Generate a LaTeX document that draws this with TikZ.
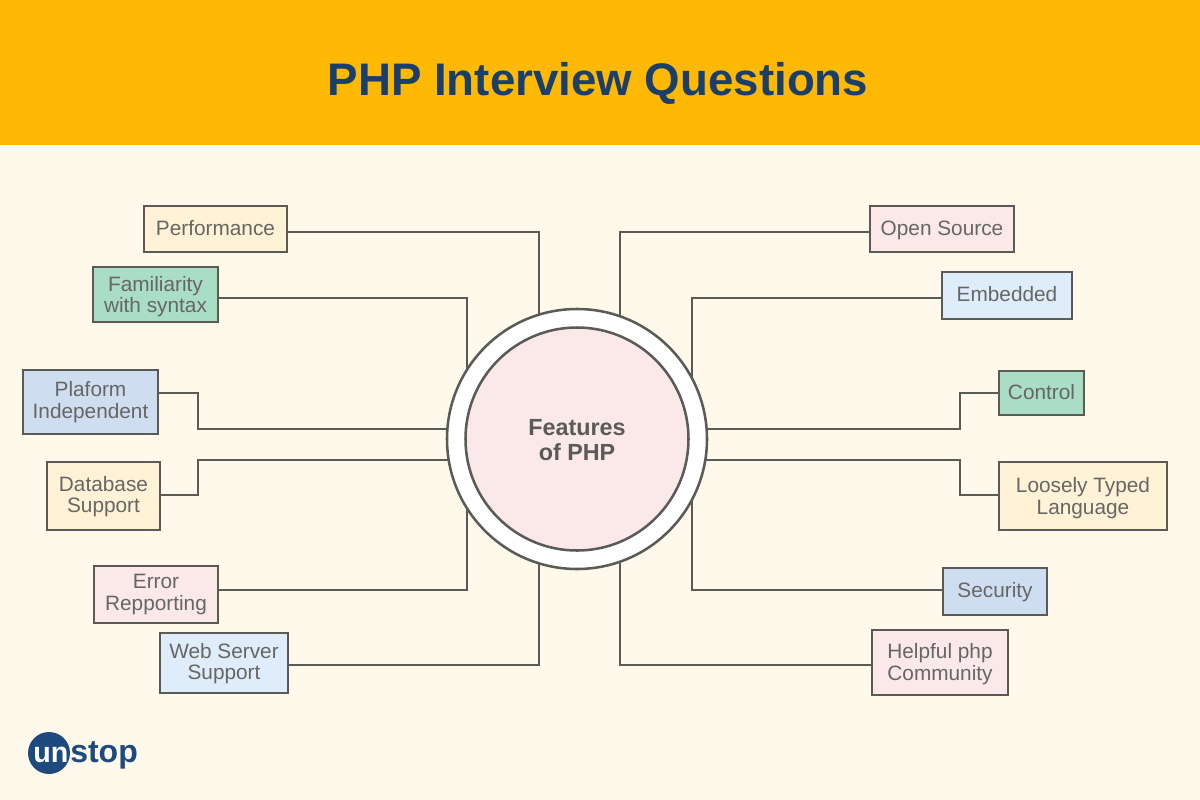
\documentclass[tikz,border=0pt]{standalone}
\usepackage{fontspec}
\setmainfont{Liberation Sans}
\definecolor{bgc}{HTML}{FFF9EC}
\definecolor{hdr}{HTML}{FFB905}
\definecolor{navy}{HTML}{1B3F6B}
\definecolor{logoc}{HTML}{1E4A7E}
\definecolor{ink}{HTML}{5A5A56}
\definecolor{txt}{HTML}{666664}
\definecolor{cream}{HTML}{FFF2D6}
\definecolor{mint}{HTML}{A9DDC6}
\definecolor{sky}{HTML}{CFDDF1}
\definecolor{pale}{HTML}{DFEDFB}
\definecolor{rose}{HTML}{FBE9E9}
\newcommand{\lowr}[1]{\rule{0pt}{#1}}
\tikzset{
  px/.style={x=0.75pt,y=-0.75pt},
  boxbase/.style={draw=ink,line width=2.2pt,rectangle,inner sep=0pt,align=center,text=txt,font=\fontsize{15.6}{16.1}\selectfont},
  oneline/.style={boxbase,text height=12pt,text depth=3pt},
  link/.style={draw=ink,line width=1.9pt,line join=miter},
}
\begin{document}
\begin{tikzpicture}[px]
\useasboundingbox (0,0) rectangle (1200,800);
\fill[bgc] (0,0) rectangle (1200,800);
\fill[hdr] (0,0) rectangle (1200,145);
\node[text=navy,font=\fontsize{34.25}{38}\bfseries\selectfont] (title) at (598,83) {PHP Interview Questions};

% boxes
\node[oneline,fill=cream,minimum width=107.25pt,minimum height=34.5pt] (perf) at (215.5,229) {Performance};
\node[boxbase,fill=mint,minimum width=93.75pt,minimum height=41.25pt] (fam) at (155.5,294.5) {\lowr{14.8pt}Familiarity\\with syntax};
\node[boxbase,fill=sky,minimum width=101.25pt,minimum height=48pt] (plat) at (90.5,402) {Plaform\\Independent};
\node[boxbase,fill=cream,minimum width=84.75pt,minimum height=51pt] (db) at (103.5,496) {\lowr{12.5pt}Database\\Support};
\node[boxbase,fill=rose,minimum width=93pt,minimum height=42.75pt] (err) at (156,594.5) {Error\\Repporting};
\node[boxbase,fill=pale,minimum width=96pt,minimum height=45pt] (web) at (224,663) {\lowr{12.5pt}Web Server\\Support};
\node[oneline,fill=rose,minimum width=108pt,minimum height=34.5pt] (open) at (942,229) {Open Source};
\node[oneline,fill=pale,minimum width=97.5pt,minimum height=35.25pt] (emb) at (1007,295.5) {Embedded};
\node[oneline,fill=mint,minimum width=63.75pt,minimum height=33pt] (ctrl) at (1041.5,393) {Control};
\node[boxbase,fill=cream,minimum width=126pt,minimum height=51pt] (loose) at (1083,496) {\lowr{14.8pt}Loosely Typed\\Language};
\node[oneline,fill=sky,minimum width=78pt,minimum height=35.25pt] (sec) at (995,591.5) {Security};
\node[boxbase,fill=rose,minimum width=102pt,minimum height=48.75pt] (help) at (940,662.5) {\lowr{14pt}Helpful php\\Community};

% hub
\node[circle,draw=ink,fill=white,line width=1.9pt,minimum size=195pt,inner sep=0pt] (ring) at (577,439) {};
\node[circle,draw=ink,fill=rose,line width=1.9pt,minimum size=167.25pt,inner sep=0pt,align=center,text=ink,font=\fontsize{17.5}{19}\bfseries\selectfont] (hub) at (577,439) {\lowr{14pt}Features\\of PHP};

% connector ends on the ring
\coordinate (a1) at (539,315);
\coordinate (a2) at (467,370);
\coordinate (a3) at (447.4,429);
\coordinate (a4) at (448.7,460);
\coordinate (a5) at (467,508);
\coordinate (a6) at (539,563);
\coordinate (b1) at (620,316);
\coordinate (b2) at (692,378);
\coordinate (b3) at (706.6,429);
\coordinate (b4) at (705.3,460);
\coordinate (b5) at (692,500);
\coordinate (b6) at (620,562);

\draw[link] (perf.east |- 0,232) -| (a1);
\draw[link] (fam.east |- 0,298) -| (a2);
\draw[link] (plat.east |- 0,393) -- (198,393) |- (a3);
\draw[link] (db.east |- 0,495) -- (198,495) |- (a4);
\draw[link] (err.east |- 0,590) -| (a5);
\draw[link] (web.east |- 0,665) -| (a6);
\draw[link] (open.west |- 0,232) -| (b1);
\draw[link] (emb.west |- 0,298) -| (b2);
\draw[link] (ctrl.west |- 0,393) -- (960,393) |- (b3);
\draw[link] (loose.west |- 0,495) -- (960,495) |- (b4);
\draw[link] (sec.west |- 0,590) -| (b5);
\draw[link] (help.west |- 0,665) -| (b6);

% logo
\node[circle,fill=logoc,minimum size=31.5pt,inner sep=0pt] (logo) at (49,753) {};
\node[anchor=base west,inner sep=0pt,text=white,font=\fontsize{21.5}{24}\bfseries\selectfont] (un) at (33,762) {un};
\node[anchor=base west,inner sep=0pt,text=logoc,font=\fontsize{24}{26}\bfseries\selectfont] (stop) at (70,762) {stop};
\end{tikzpicture}
\end{document}
